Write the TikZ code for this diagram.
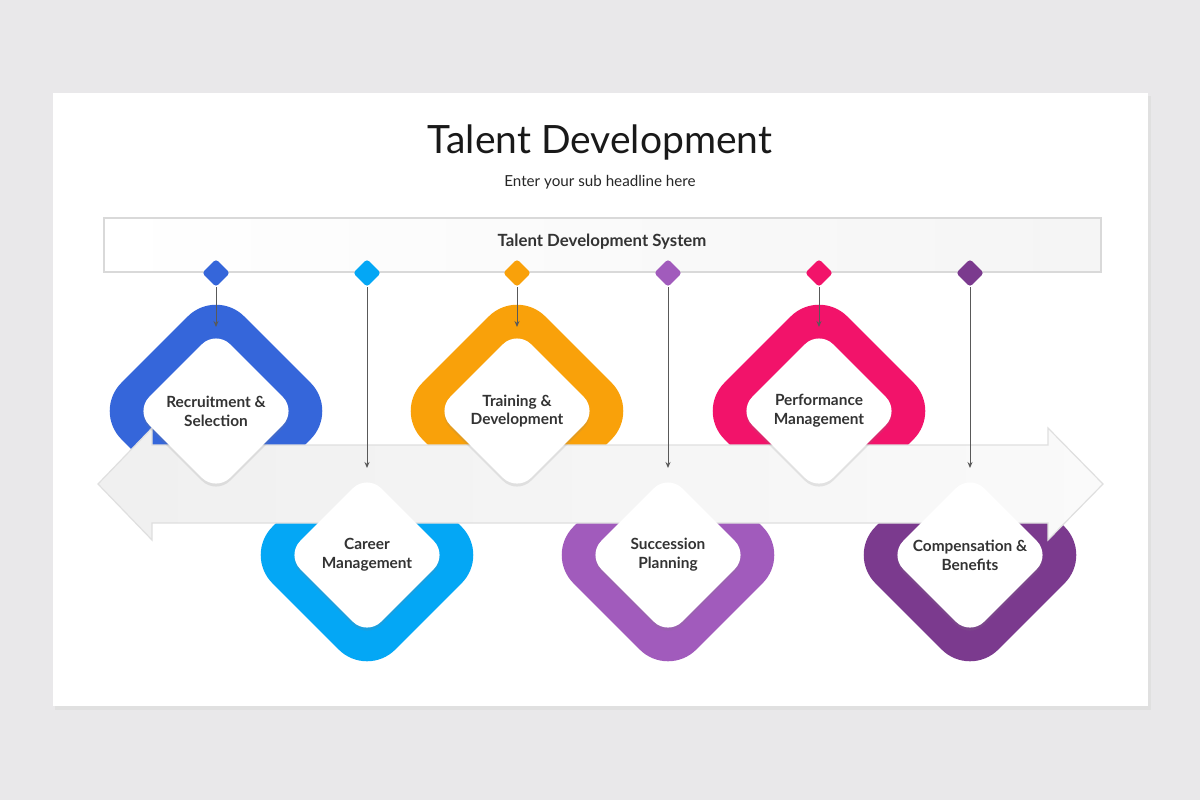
\documentclass[tikz,border=0pt]{standalone}
\usepackage{fontspec}
\setmainfont{Lato}
\usetikzlibrary{shapes.geometric,shadows,arrows.meta}
\definecolor{bgGray}{HTML}{E9E8EA}
\definecolor{cBlue}{HTML}{3566DA}
\definecolor{cCyan}{HTML}{04A7F5}
\definecolor{cOrange}{HTML}{F9A10A}
\definecolor{cPink}{HTML}{F2136A}
\definecolor{cPurple}{HTML}{A15BBC}
\definecolor{cDeep}{HTML}{7B3A8E}
\definecolor{txtDark}{HTML}{333333}
\tikzset{
  ring/.style={diamond, aspect=1, minimum size=123pt, inner sep=0pt, rounded corners=20pt, fill=#1},
  card/.style={diamond, aspect=1, minimum size=81pt, inner sep=0pt, rounded corners=10pt, fill=white,
    drop shadow={shadow xshift=0pt, shadow yshift=-1.5pt, opacity=.18},
    font=\fontsize{7.7}{9.4}\selectfont\bfseries, text=txtDark, align=center},
  tag/.style={diamond, aspect=1, minimum size=14pt, inner sep=0pt, rounded corners=1.5pt, fill=#1},
  link/.style={gray!70!black, line width=0.5pt, -{Stealth[length=3pt,width=2.5pt]}}
}
\begin{document}
\begin{tikzpicture}[x=0.5pt,y=-0.5pt]
        \useasboundingbox (0,0) rectangle (1200,800);
        % slide
        \fill[bgGray] (0,0) rectangle (1200,800);
        \fill[black!12] (55,96) rectangle (1151,710);
        \fill[white] (53,93) rectangle (1148,706);
        \node[font=\fontsize{19.5}{22}\selectfont, text=black!90] (title) at (600,142) {Talent Development};
        \node[font=\fontsize{7.6}{9}\selectfont, text=black!85] (sub) at (600,182) {Enter your sub headline here};
        % system bar
        \shade[left color=white, right color=gray!8, draw=gray!30, line width=0.8pt] (104,218) rectangle (1101,272);
        \node[font=\fontsize{8.4}{10}\selectfont\bfseries, text=txtDark] (sys) at (602,242) {Talent Development System};
        % coloured rings
        \node[ring=cBlue] (r1) at (216,411) {};
        \node[ring=cOrange] (r3) at (517,411) {};
        \node[ring=cPink] (r5) at (819,411) {};
        \node[ring=cCyan] (r2) at (367,555) {};
        \node[ring=cPurple] (r4) at (668,555) {};
        \node[ring=cDeep] (r6) at (970,555) {};
        % big arrow
        \shade[left color=gray!12, right color=gray!4, draw=gray!25, line width=0.6pt]
          (98,484) -- (152,428) -- (152,445) -- (1048,445) -- (1048,428) -- (1103,484)
          -- (1048,540) -- (1048,523) -- (152,523) -- (152,540) -- cycle;
        % cards
        \node[card] (c1) at (216,411) {Recruitment \&\\Selection};
        \node[card] (c3) at (517,411) {Training \&\\Development};
        \node[card] (c5) at (819,411) {Performance\\Management};
        \node[card] (c2) at (367,555) {Career\\Management};
        \node[card] (c4) at (668,555) {Succession\\Planning};
        \node[card] (c6) at (970,555) {Compensation \&\\Benefits};
        % tags and links
        \node[tag=cBlue] (t1) at (216,273) {};
        \node[tag=cCyan] (t2) at (367,273) {};
        \node[tag=cOrange] (t3) at (517,273) {};
        \node[tag=cPurple] (t4) at (668,273) {};
        \node[tag=cPink] (t5) at (819,273) {};
        \node[tag=cDeep] (t6) at (970,273) {};
        \coordinate (e1) at (216,327);
        \coordinate (e2) at (367,468);
        \coordinate (e3) at (517,327);
        \coordinate (e4) at (668,468);
        \coordinate (e5) at (819,327);
        \coordinate (e6) at (970,468);
        \draw[link] (t1) -- (e1);
        \draw[link] (t2) -- (e2);
        \draw[link] (t3) -- (e3);
        \draw[link] (t4) -- (e4);
        \draw[link] (t5) -- (e5);
        \draw[link] (t6) -- (e6);
\end{tikzpicture}
\end{document}
